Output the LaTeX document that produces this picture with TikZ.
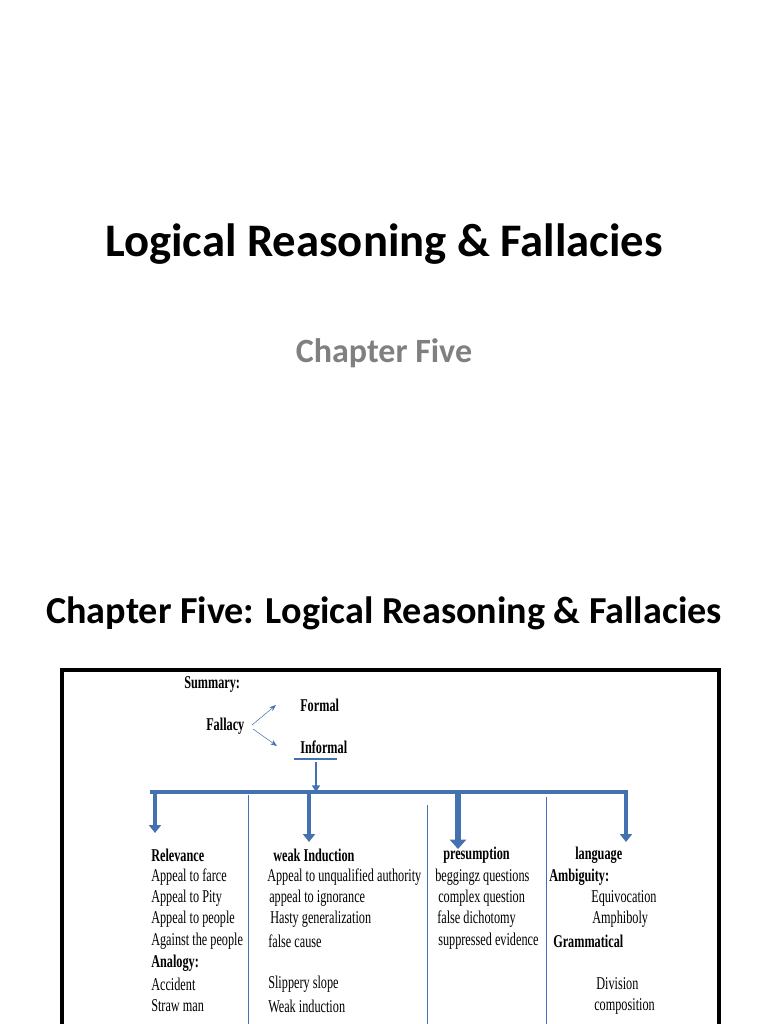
\documentclass[tikz,border=0pt]{standalone}
\usepackage{fontspec}
\setmainfont{Carlito}
\newfontfamily\tn[FakeStretch=0.68]{Liberation Serif}
\usetikzlibrary{arrows.meta}
\begin{document}
\begin{tikzpicture}[x=0.75pt,y=-0.75pt,
  it/.style={anchor=west,inner sep=0pt,font=\tn\fontsize{13.5}{15}\selectfont},
  bt/.style={it,font=\tn\bfseries\fontsize{13.5}{15}\selectfont},
  blu/.style={draw={rgb,255:red,68;green,114;blue,176}},
  bar/.style={blu,line width=3pt},
  dn/.style={blu,line width=2.5pt,-{Triangle[length=6pt,width=9pt]}}]
\path[use as bounding box] (0,0) rectangle (768,1024);
\node (t1) at (384,244) {\fontsize{35}{42}\selectfont\bfseries Logical Reasoning \& Fallacies};
\node[text={rgb,255:red,128;green,128;blue,128}] (t2) at (384,353) {\fontsize{25.5}{30}\selectfont\bfseries Chapter Five};
\node (t3) at (384,613) {\fontsize{28.6}{34}\selectfont\bfseries Chapter Five: Logical Reasoning \& Fallacies};
\draw[line width=3pt] (62,1030) -- (62,670) -- (719,670) -- (719,1030);
\node[bt] (sum) at (184,684) {Summary:};
\node[bt] (fal) at (206,726) {Fallacy};
\node[bt] (for) at (300,705) {Formal};
\node[bt] (inf) at (300,747) {Informal};
\draw[blu,thick] (294,759) -- (337,759);
\draw[blu,-{Stealth[length=5pt]}] (252,725) -- (276,705);
\draw[blu,-{Stealth[length=5pt]}] (253,729) -- (277,746);
\coordinate (c) at (316,792);
\draw[blu,line width=1.5pt,-{Triangle[length=5pt,width=6pt]}] (316,762) -- (c);
\draw[bar] (150,792) -- (628,792);
\draw[dn] (155,792) -- (155,833);
\draw[dn] (309,792) -- (309,842);
\draw[blu,line width=4.5pt,-{Triangle[length=7pt,width=12pt]}] (458,792) -- (458,849);
\draw[dn] (626,792) -- (626,842);
\draw[blu,thin] (248,795) -- (248,1024);
\draw[blu,thin] (427,805) -- (427,1024);
\draw[blu,thin] (546,797) -- (546,1024);
\foreach \t/\x/\y/\s in {Relevance/151/855/bt,Appeal to farce/151/877/it,Appeal to Pity/151/898/it,Appeal to people/151/919/it,Against the people/151/941/it,Analogy:/151/963/bt,Accident/151/984/it,Straw man/151/1006/it,
weak Induction/273/855/bt,Appeal to unqualified authority/267/877/it,appeal to ignorance/269/898/it,Hasty generalization/270/919/it,false cause/268/941/it,Slippery slope/268/984/it,Weak induction/268/1006/it,
presumption/443/855/bt,beggingz questions/435/877/it,complex question/438/898/it,false dichotomy/437/919/it,suppressed evidence/438/941/it,
language/575/855/bt,Ambiguity:/549/877/bt,Equivocation/591/898/it,Amphiboly/592/919/it,Grammatical/553/941/bt,Division/596/984/it,composition/594/1006/it}
  \node[\s] at (\x,\y) {\t};
\end{tikzpicture}
\end{document}
